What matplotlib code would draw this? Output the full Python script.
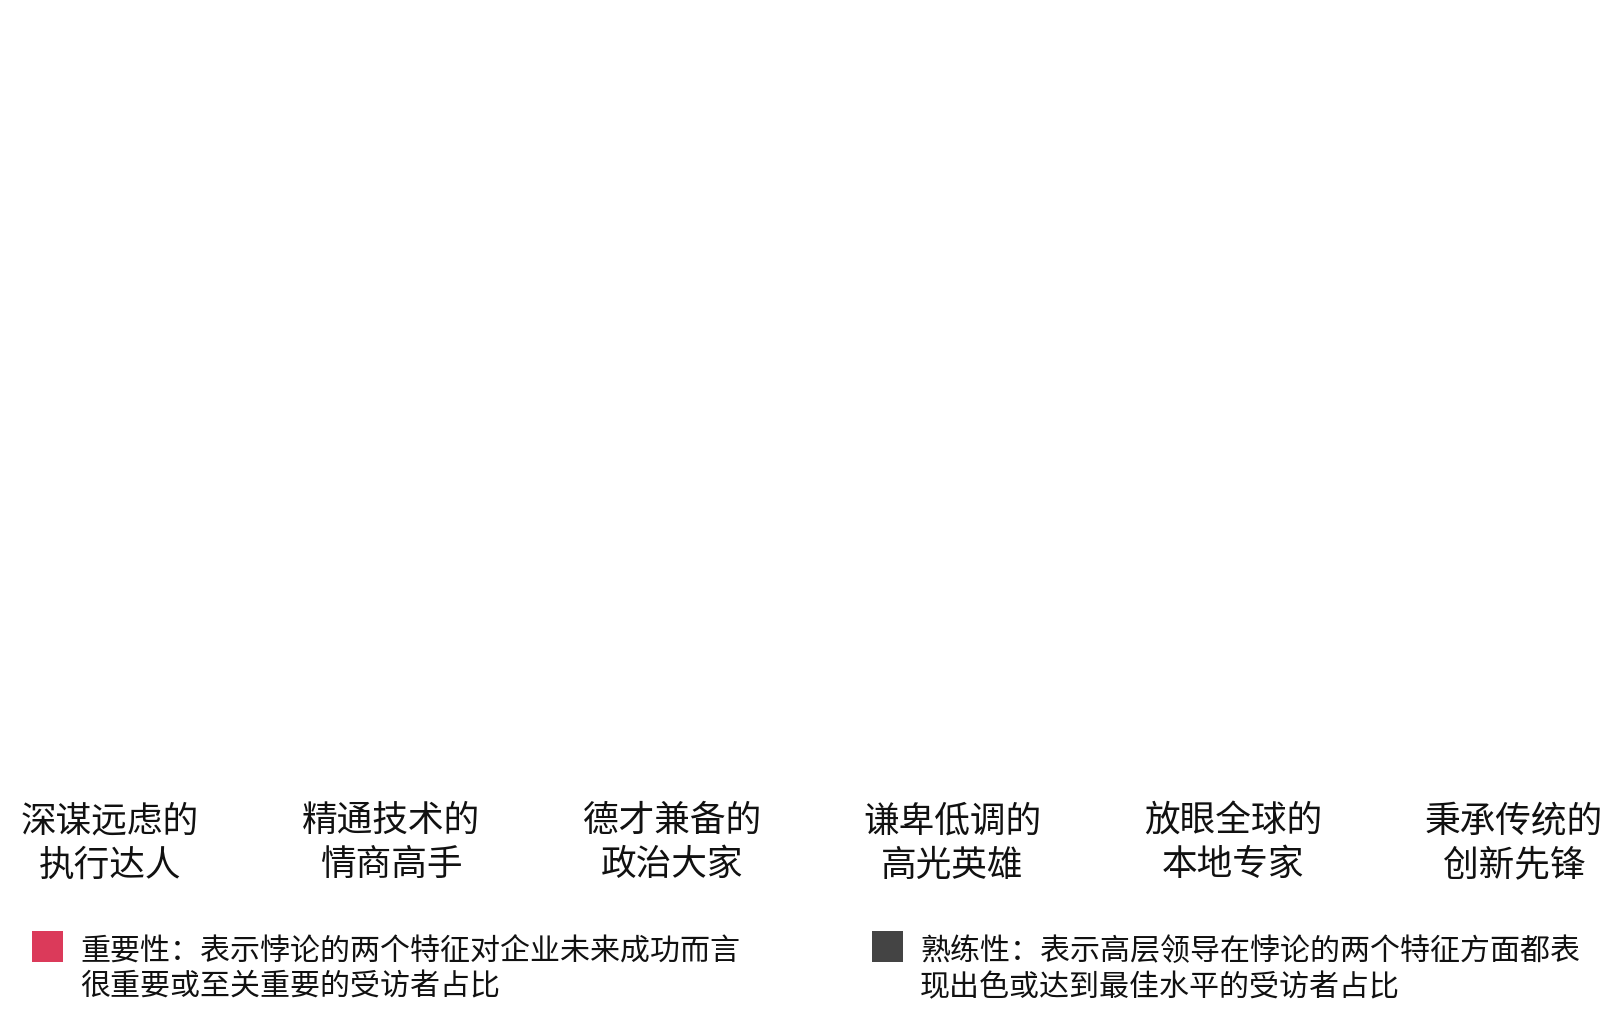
import matplotlib
matplotlib.use("Agg")
import matplotlib.pyplot as plt
from matplotlib.patches import Rectangle

plt.rcParams['font.family'] = ['Noto Sans CJK SC', 'DejaVu Sans']

# ---- data ----
categories = ["深谋远虑的\n执行达人", "精通技术的\n情商高手", "德才兼备的\n政治大家",
              "谦卑低调的\n高光英雄", "放眼全球的\n本地专家", "秉承传统的\n创新先锋"]
series_names = ["重要性：表示悖论的两个特征对企业未来成功而言\n很重要或至关重要的受访者占比",
                "熟练性：表示高层领导在悖论的两个特征方面都表\n现出色或达到最佳水平的受访者占比"]
series_colors = ["#DB3A5A", "#444444"]
importance = [0, 0, 0, 0, 0, 0]    # no bars are visible in the reference
proficiency = [0, 0, 0, 0, 0, 0]

W, H = 1620, 1020
fig = plt.figure(figsize=(W / 100, H / 100), dpi=100)
fig.patch.set_facecolor("white")

ax_bottom = 1 - 785 / H
ax = fig.add_axes([0, ax_bottom, 1, 1 - ax_bottom])

x = list(range(len(categories)))
bw = 0.3
ax.bar([i - bw / 2 for i in x], importance, width=bw, color=series_colors[0], linewidth=0)
ax.bar([i + bw / 2 for i in x], proficiency, width=bw, color=series_colors[1], linewidth=0)

# tick centres at ~110 px, spaced ~281 px
step = 280.8
xmin = -110.0 / step
ax.set_xlim(xmin, xmin + W / step)
ax.set_ylim(0, 100)
ax.set_xticks(x)
ax.set_xticklabels(categories, fontsize=25.7, color="#111111", linespacing=1.3)
ax.tick_params(axis="x", length=0, pad=13)
ax.set_yticks([])
for s in ax.spines.values():
    s.set_visible(False)
ax.set_facecolor("white")

# ---- legend (manual, two-line labels with top-aligned swatches) ----
legend_sq_x = [32, 872]
legend_tx_x = [80, 920]
for name, col, sx, tx in zip(series_names, series_colors, legend_sq_x, legend_tx_x):
    fig.patches.append(Rectangle((sx / W, 1 - 963 / H), 31 / W, 31 / H,
                                 transform=fig.transFigure, facecolor=col,
                                 edgecolor="none"))
    fig.text(tx / W, 1 - 969.5 / H, name, fontsize=21.6, color="#111111",
             ha="left", va="center", linespacing=1.2)

fig.savefig("out.png", dpi=100, facecolor="white")
